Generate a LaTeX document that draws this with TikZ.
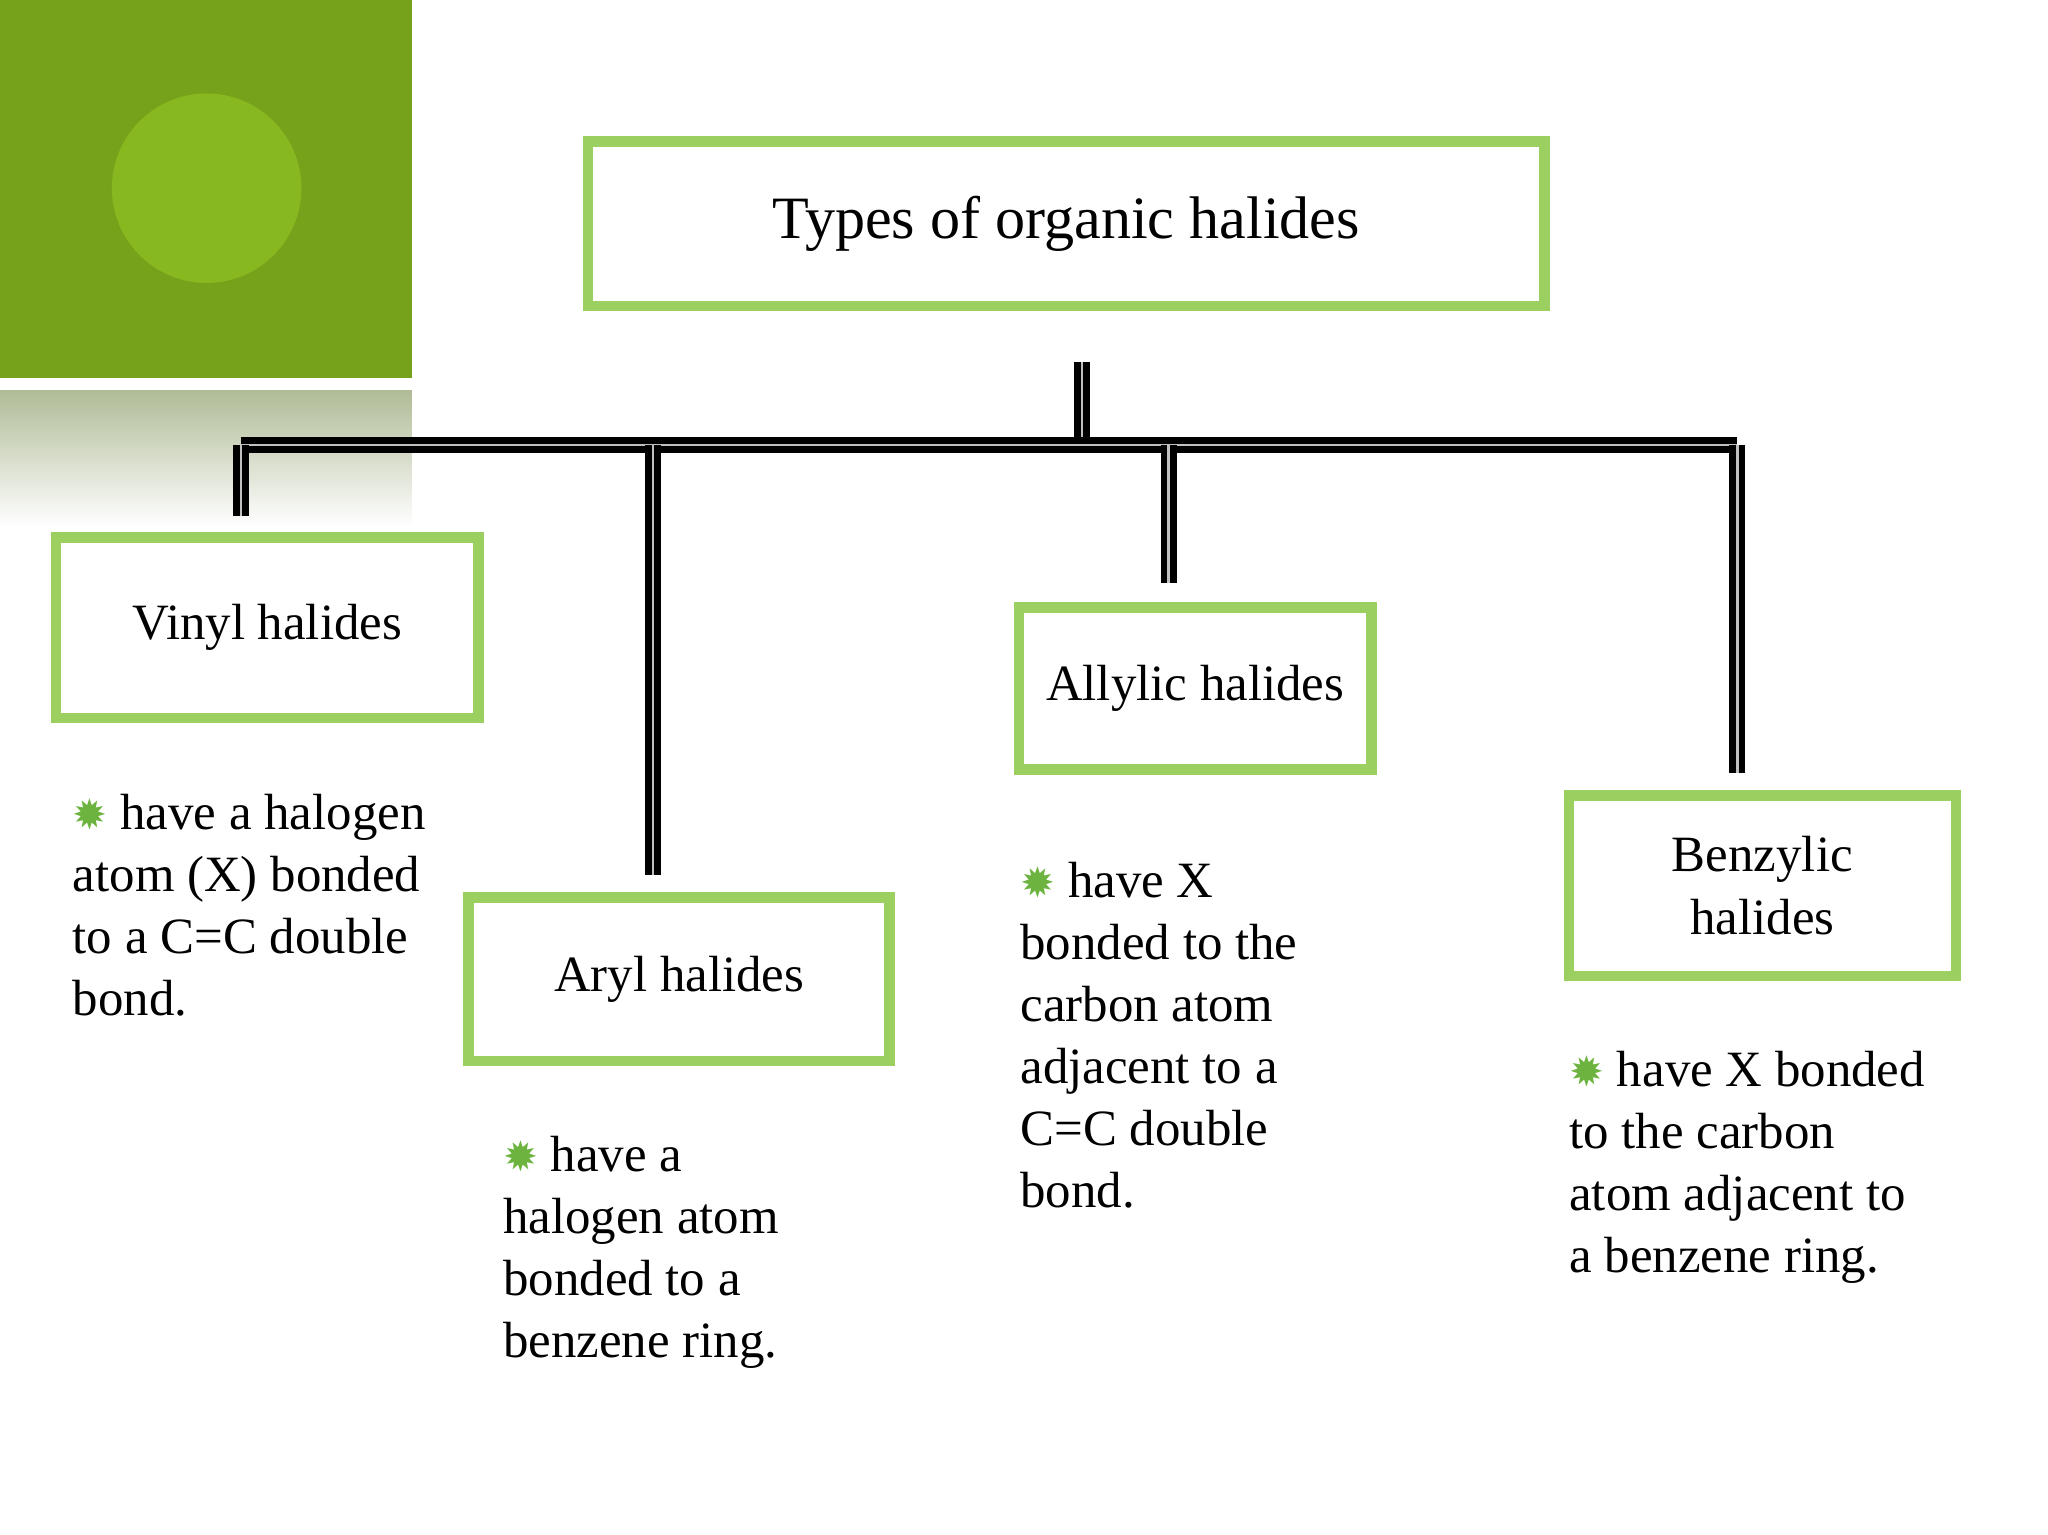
\documentclass[tikz,border=0pt]{standalone}
\usepackage{fontspec}
\setmainfont{Liberation Serif}
\newfontfamily\symf{DejaVu Sans}
\definecolor{dkgreen}{HTML}{76A11A}
\definecolor{ltgreen}{HTML}{87B81F}
\definecolor{boxgreen}{HTML}{9BD060}
\definecolor{bul}{HTML}{6DB33F}
\tikzset{
  hbox/.style={draw=boxgreen,line width=0.16cm,fill=white,inner sep=0pt,align=center,font=\fontsize{22}{27}\selectfont},
  conn/.style={draw=black,line width=0.1cm,double=black!25,double distance=0.04cm},
  desc/.style={anchor=north west,align=left,inner sep=0pt,font=\fontsize{22}{26.8}\selectfont},
}
\newcommand{\bl}{{\symf\color{bul}\fontsize{18}{18}\selectfont ✹}\ }
\begin{document}
\begin{tikzpicture}[x=0.02cm,y=-0.02cm]
\useasboundingbox (0,0) rectangle (1556,1166);
\fill[dkgreen] (0,0) rectangle (313,287);
\fill[ltgreen] (157,143) circle (72);
\shade[top color=dkgreen!45!gray!60,bottom color=white] (0,297) rectangle (313,400);
\node[hbox,minimum width=14.7cm-0.16cm,minimum height=2.66cm-0.16cm,font=\fontsize{26}{30}\selectfont] (title) at (810,170) {Types of organic halides};
\node[hbox,minimum width=6.58cm-0.16cm,minimum height=2.9cm-0.16cm] (vinyl) at (203,477) {Vinyl halides};
\node[hbox,minimum width=6.56cm-0.16cm,minimum height=2.64cm-0.16cm] (aryl) at (516,744) {Aryl halides};
\node[hbox,minimum width=5.52cm-0.16cm,minimum height=2.62cm-0.16cm] (allyl) at (908,523) {Allylic halides};
\node[hbox,minimum width=6.04cm-0.16cm,minimum height=2.9cm-0.16cm] (benz) at (1339,673) {Benzylic\\halides};
\coordinate (t0) at (822,275);
\coordinate (t1) at (822,338);
\coordinate (hl) at (183,338);
\coordinate (hr) at (1320,338);
\draw[conn] (t0) -- (t1);
\draw[conn] (hl) -- (hr);
\draw[conn] (hl) -- (183,392);
\draw[conn] (496,338) -- (496,665);
\draw[conn] (888,338) -- (888,443);
\draw[conn] (hr) -- (1320,587);
\node[desc] (d1) at (55,603) {\bl have a halogen\\atom (X) bonded\\to a C=C double\\bond.};
\node[desc] (d2) at (382,863) {\bl have a\\halogen atom\\bonded to a\\benzene ring.};
\node[desc] (d3) at (775,655) {\bl have X\\bonded to the\\carbon atom\\adjacent to a\\C=C double\\bond.};
\node[desc] (d4) at (1192,798) {\bl have X bonded\\to the carbon\\atom adjacent to\\a benzene ring.};
\end{tikzpicture}
\end{document}
